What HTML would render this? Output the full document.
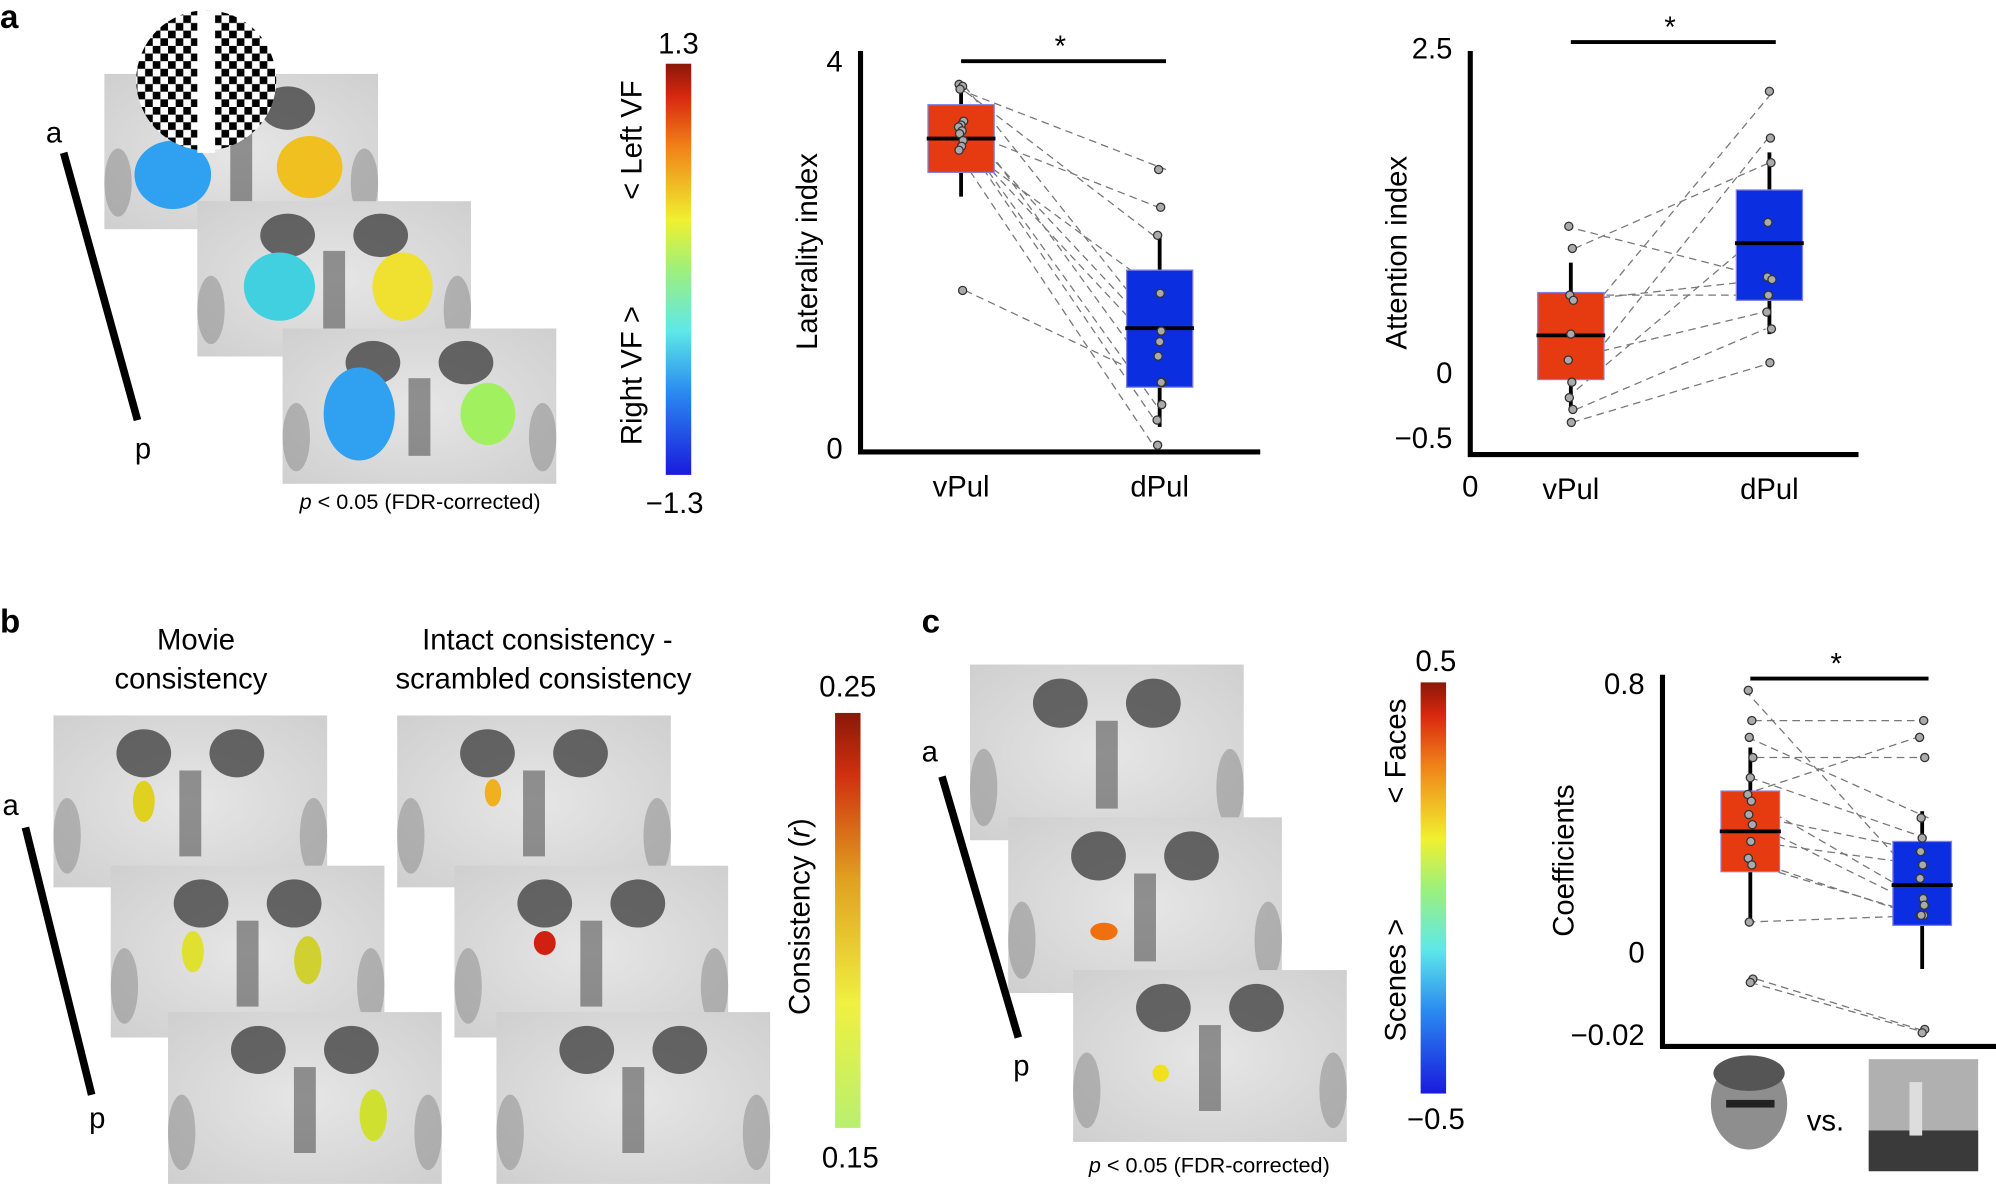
<!DOCTYPE html>
<html><head><meta charset="utf-8"><style>
body{margin:0;background:#fff}
svg{display:block;font-family:"Liberation Sans",Arial,sans-serif}
</style></head><body>
<svg id="fig" width="1996" height="1184" viewBox="0 0 1568 930" xmlns="http://www.w3.org/2000/svg">
<defs>
<linearGradient id="jet" x1="0" y1="1" x2="0" y2="0">
<stop offset="0" stop-color="#1a1adc"/><stop offset="0.2" stop-color="#2a8af0"/><stop offset="0.35" stop-color="#5ee8e8"/><stop offset="0.5" stop-color="#9ef07a"/><stop offset="0.62" stop-color="#f0f030"/><stop offset="0.8" stop-color="#f08018"/><stop offset="0.92" stop-color="#d82810"/><stop offset="1" stop-color="#8a1808"/></linearGradient>
<linearGradient id="hot" x1="0" y1="1" x2="0" y2="0">
<stop offset="0" stop-color="#b8f070"/><stop offset="0.3" stop-color="#f0f040"/><stop offset="0.6" stop-color="#e0a020"/><stop offset="0.85" stop-color="#d03010"/><stop offset="1" stop-color="#8a1808"/></linearGradient>
<radialGradient id="brain" cx="0.5" cy="0.5" r="0.7"><stop offset="0" stop-color="#e6e6e6"/><stop offset="1" stop-color="#cfcfcf"/></radialGradient>
<pattern id="check" width="12" height="12" patternUnits="userSpaceOnUse"><rect width="12" height="12" fill="#fff"/><rect width="6" height="6" fill="#000"/><rect x="6" y="6" width="6" height="6" fill="#000"/></pattern>
</defs>

<text x="0" y="22" font-size="26" font-weight="bold">a</text>
<text x="0" y="497" font-size="26" font-weight="bold">b</text>
<text x="724" y="497" font-size="26" font-weight="bold">c</text>

<g id="brains"></g>

<line x1="50" y1="120" x2="108" y2="330" stroke="#000" stroke-width="6"/>
<text x="36" y="112" font-size="23">a</text>
<text x="106" y="360" font-size="23">p</text>
<circle cx="162" cy="63" r="55" fill="url(#check)"/>
<rect x="155" y="8" width="14" height="112" fill="#fff"/>
<text x="330" y="400" font-size="17" text-anchor="middle"><tspan font-style="italic">p</tspan> &lt; 0.05 (FDR-corrected)</text>
<rect x="523" y="50" width="20" height="323" fill="url(#jet)"/>
<text x="533" y="42" font-size="23" text-anchor="middle">1.3</text>
<text x="530" y="403" font-size="23" text-anchor="middle">−1.3</text>
<text transform="translate(504,110) rotate(-90)" font-size="23" text-anchor="middle">&lt; Left VF</text>
<text transform="translate(504,295) rotate(-90)" font-size="23" text-anchor="middle">Right VF &gt;</text>

<text x="154" y="510" font-size="23" text-anchor="middle">Movie</text>
<text x="150" y="541" font-size="23" text-anchor="middle">consistency</text>
<text x="430" y="510" font-size="23" text-anchor="middle">Intact consistency -</text>
<text x="427" y="541" font-size="23" text-anchor="middle">scrambled consistency</text>
<line x1="20" y1="650" x2="72" y2="860" stroke="#000" stroke-width="6"/>
<text x="2" y="640" font-size="23">a</text>
<text x="70" y="886" font-size="23">p</text>
<rect x="656" y="560" width="20" height="326" fill="url(#hot)"/>
<text x="666" y="547" font-size="23" text-anchor="middle">0.25</text>
<text x="668" y="917" font-size="23" text-anchor="middle">0.15</text>
<text transform="translate(636,720) rotate(-90)" font-size="23" text-anchor="middle">Consistency (<tspan font-style="italic">r</tspan>)</text>

<line x1="740" y1="610" x2="800" y2="815" stroke="#000" stroke-width="6"/>
<text x="724" y="598" font-size="23">a</text>
<text x="796" y="845" font-size="23">p</text>
<text x="950" y="921" font-size="17" text-anchor="middle"><tspan font-style="italic">p</tspan> &lt; 0.05 (FDR-corrected)</text>
<rect x="1116" y="536" width="20" height="323" fill="url(#jet)"/>
<text x="1128" y="527" font-size="23" text-anchor="middle">0.5</text>
<text x="1128" y="887" font-size="23" text-anchor="middle">−0.5</text>
<text transform="translate(1104,590) rotate(-90)" font-size="23" text-anchor="middle">&lt; Faces</text>
<text transform="translate(1104,770) rotate(-90)" font-size="23" text-anchor="middle">Scenes &gt;</text>

<g>
<ellipse cx="1374" cy="867" rx="30" ry="36" fill="#8e8e8e"/>
<ellipse cx="1374" cy="843" rx="28" ry="14" fill="#555"/>
<rect x="1356" y="864" width="38" height="6" fill="#222"/>
</g>
<text x="1434" y="888" font-size="23" text-anchor="middle">vs.</text>
<g>
<rect x="1468" y="832" width="86" height="88" fill="#b0b0b0"/>
<rect x="1468" y="888" width="86" height="32" fill="#3a3a3a"/>
<rect x="1500" y="850" width="10" height="42" fill="#ddd"/>
</g>

<g id="charts"></g>
</svg>
<script>
const latCategories = ["vPul","dPul"];
const latTicks = [0,4];
const latVPul = [3.76,3.74,3.71,3.38,3.34,3.32,3.28,3.25,3.18,3.12,3.08,1.63];
const latDPul = [2.20,1.21,2.88,0.68,1.10,0.29,2.49,0.95,0.45,1.60,0.03,0.68];
const latBoxV = [2.85,3.2,3.55,2.6,3.75];
const latBoxD = [0.63,1.24,1.84,0.22,2.20];
const attCategories = ["vPul","dPul"];
const attTicks = [-0.5,0,2.5];
const attVPul = [1.13,0.96,0.60,0.56,0.30,0.10,-0.07,-0.19,-0.28,-0.38];
const attDPul = [0.74,1.62,0.60,0.72,2.17,0.47,1.81,1.16,0.34,0.08];
const attBoxV = [-0.05,0.29,0.62,-0.27,0.85];
const attBoxD = [0.56,1.00,1.41,0.30,1.70];
const coefCategories = ["Faces","Scenes"];
const coefTicks = [0,0.8];
const coefVPul = [0.78,0.69,0.64,0.58,0.52,0.47,0.45,0.41,0.38,0.33,0.28,0.26,0.09,-0.08,-0.09];
const coefDPul = [0.22,0.69,0.40,0.58,0.34,0.64,0.16,0.30,0.14,0.26,0.11,0.11,0.11,-0.23,-0.24];
const coefBoxV = [0.24,0.36,0.48,0.10,0.61];
const coefBoxD = [0.08,0.20,0.33,-0.05,0.42];

const NS="http://www.w3.org/2000/svg";
const root=document.getElementById('charts');
function mk(tag,attrs,parent){const e=document.createElementNS(NS,tag);for(const k in attrs)e.setAttribute(k,attrs[k]);(parent||root).appendChild(e);return e;}

function drawChart(o){
  const g=mk('g',{});
  
  
  const y=v=>o.y0+(v-o.v0)*(o.y1-o.y0)/(o.v1-o.v0);
  const ax=mk('path',{d:`M${o.axX},${o.axTop} V${o.axBot} H${o.axRight}`,fill:'none',stroke:'#000','stroke-width':4},g);
  
  
  o.ticks.forEach((t,i)=>{
    const tx=mk('text',{x:o.axX-14,y:y(t)+8,'font-size':23,'text-anchor':'end'},g);
    tx.textContent=String(t).replace('-','−');
    
    
  });
  if(o.extraTick){const tx=mk('text',{x:o.axX-14,y:o.extraTick[1]+8,'font-size':23,'text-anchor':'end'},g);tx.textContent=o.extraTick[0];
    
    }
  const tl=mk('text',{transform:`translate(${o.titleX},${(o.axTop+o.axBot)/2}) rotate(-90)`,'font-size':23,'text-anchor':'middle'},g);
  tl.textContent=o.title;
  
  
  const xs=o.xs;
  o.a.forEach((v,i)=>{
    const l=mk('line',{x1:xs[0]+o.jit[i%o.jit.length],y1:y(v),x2:xs[1]-o.jit[(i+3)%o.jit.length],y2:y(o.b[i]),stroke:'#777','stroke-width':1,'stroke-dasharray':'6,4'},g);
    
    
  });
  [[o.boxA,'#e63a10',xs[0]],[o.boxB,'#0a2ee0',xs[1]]].forEach(([b,c,x],k)=>{
    const w=mk('line',{x1:x,x2:x,y1:y(b[3]),y2:y(b[4]),stroke:'#000','stroke-width':3},g);
    
    
    const r=mk('rect',{x:x-o.bw/2,y:y(b[2]),width:o.bw,height:y(b[0])-y(b[2]),fill:c,stroke:'#8080e0','stroke-width':1},g);
    
    
    const m=mk('line',{x1:x-o.bw/2-1,x2:x+o.bw/2+1,y1:y(b[1]),y2:y(b[1]),stroke:'#000','stroke-width':3},g);
    
    
  });
  [[o.a,xs[0]],[o.b,xs[1]]].forEach(([arr,x])=>arr.forEach((v,i)=>{
    const p=mk('circle',{cx:x+o.jit[i%o.jit.length]*0.4,cy:y(v),r:3.2,fill:'#aaa',stroke:'#333','stroke-width':1},g);
    
    
  }));
  if(o.xlab){o.cats.forEach((c,k)=>{const t=mk('text',{x:xs[k],y:o.axBot+35,'font-size':23,'text-anchor':'middle'},g);t.textContent=c;
    
    });}
  const s=mk('line',{x1:xs[0],x2:xs[1]+5,y1:o.sigY,y2:o.sigY,stroke:'#000','stroke-width':3},g);
  
  
  const st=mk('text',{x:(xs[0]+xs[1])/2,y:o.sigY-4,'font-size':23,'text-anchor':'middle'},g);st.textContent='*';
  
  
  if(o.zeroX){const z=mk('text',{x:o.axX,y:o.axBot+33,'font-size':23,'text-anchor':'middle'},g);z.textContent='0';
    
    }
}
const jit=[-4,3,-2,5,0,-5,2,-3,4,1];
drawChart({name:'laterality-chart',cats:latCategories,ticks:latTicks,a:latVPul,b:latDPul,boxA:latBoxV,boxB:latBoxD,
  v0:0,v1:4,y0:352,y1:48,axX:676,axTop:40,axBot:355,axRight:990,xs:[755,911],bw:52,title:'Laterality index',titleX:642,sigY:48,xlab:true,jit});
drawChart({name:'attention-chart',cats:attCategories,ticks:attTicks,a:attVPul,b:attDPul,boxA:attBoxV,boxB:attBoxD,
  v0:0,v1:2.5,y0:293,y1:38,axX:1155,axTop:40,axBot:357,axRight:1460,xs:[1234,1390],bw:52,title:'Attention index',titleX:1105,sigY:33,xlab:true,zeroX:true,jit});
drawChart({name:'coefficients-chart',cats:coefCategories,ticks:coefTicks,a:coefVPul,b:coefDPul,boxA:coefBoxV,boxB:coefBoxD,
  v0:0,v1:0.8,y0:748,y1:537,axX:1306,axTop:530,axBot:822,axRight:1568,xs:[1375,1510],bw:46,title:'Coefficients',titleX:1236,sigY:533,xlab:false,extraTick:['−0.02',813],jit});

const B=document.getElementById('brains');
function brain(x,y,w,h,name,blobs){
  const g=mk('g',{},B);
  
  
  mk('rect',{x,y,width:w,height:h,fill:'url(#brain)'},g);
  mk('ellipse',{cx:x+w*0.33,cy:y+h*0.22,rx:w*0.1,ry:h*0.14,fill:'#3a3a3a',opacity:0.75},g);
  mk('ellipse',{cx:x+w*0.67,cy:y+h*0.22,rx:w*0.1,ry:h*0.14,fill:'#3a3a3a',opacity:0.75},g);
  mk('rect',{x:x+w*0.46,y:y+h*0.32,width:w*0.08,height:h*0.5,fill:'#555',opacity:0.6},g);
  mk('ellipse',{cx:x+w*0.05,cy:y+h*0.7,rx:w*0.05,ry:h*0.22,fill:'#888',opacity:0.5},g);
  mk('ellipse',{cx:x+w*0.95,cy:y+h*0.7,rx:w*0.05,ry:h*0.22,fill:'#888',opacity:0.5},g);
  (blobs||[]).forEach(b=>mk('ellipse',{cx:x+w*b[0],cy:y+h*b[1],rx:w*b[2],ry:h*b[3],fill:b[4]},g));
}
brain(82,58,215,122,'slice-a1',[[0.25,0.65,0.14,0.22,'#30a0f0'],[0.75,0.6,0.12,0.2,'#f0c020']]);
brain(155,158,215,122,'slice-a2',[[0.3,0.55,0.13,0.22,'#40d0e0'],[0.75,0.55,0.11,0.22,'#f0e030']]);
brain(222,258,215,122,'slice-a3',[[0.28,0.55,0.13,0.3,'#30a0f0'],[0.75,0.55,0.1,0.2,'#a0f060']]);
brain(42,562,215,135,'slice-b1',[[0.33,0.5,0.04,0.12,'#e0d020']]);
brain(87,680,215,135,'slice-b2',[[0.3,0.5,0.04,0.12,'#e0e030'],[0.72,0.55,0.05,0.14,'#d0d030']]);
brain(132,795,215,135,'slice-b3',[[0.75,0.6,0.05,0.15,'#d0e030']]);
brain(312,562,215,135,'slice-b4',[[0.35,0.45,0.03,0.08,'#f0b020']]);
brain(357,680,215,135,'slice-b5',[[0.33,0.45,0.04,0.07,'#d02010']]);
brain(390,795,215,135,'slice-b6',[]);
brain(762,522,215,138,'slice-c1',[]);
brain(792,642,215,138,'slice-c2',[[0.35,0.65,0.05,0.05,'#f07010']]);
brain(843,762,215,135,'slice-c3',[[0.32,0.6,0.03,0.05,'#f0e020']]);
</script>
</body></html>
